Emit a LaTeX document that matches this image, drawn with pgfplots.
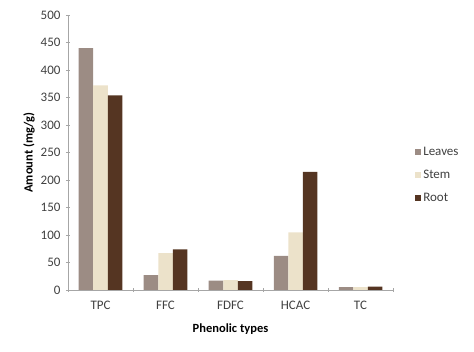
\documentclass[border=0pt]{standalone}
\usepackage{pgfplots}
\pgfplotsset{compat=1.18}
\usepackage{fontspec}
\setmainfont{Carlito}
\definecolor{leaves}{HTML}{9C8C84}
\definecolor{stem}{HTML}{ECE2CA}
\definecolor{root}{HTML}{553522}
\definecolor{txt}{HTML}{404040}
\begin{document}
\begin{tikzpicture}[x=1pt,y=1pt]
\path[use as bounding box] (0,0) rectangle (474,351);
\begin{axis}[
  at={(68pt,61pt)}, anchor=south west,
  scale only axis, width=325pt, height=275pt,
  ybar=0pt, bar width=14.5pt,
  xmin=-0.5, xmax=4.5, ymin=0, ymax=500,
  ytick={0,50,...,500},
  xtick={0,1,2,3,4},
  xticklabels={TPC,FFC,FDFC,HCAC,TC},
  minor xtick={-0.5,0.5,...,4.5},
  major x tick style={draw=none},
  minor x tick style={draw=gray!70},
  y tick style={draw=gray!70},
  tick align=outside,
  major tick length=4pt, minor tick length=4pt,
  axis x line=bottom, axis y line=left,
  axis line style={-, draw=gray!70},
  tick label style={font=\fontsize{13}{15}\selectfont, text=txt},
  /pgf/number format/assume math mode=true,
  yticklabel style={xshift=-2pt},
  xticklabel style={yshift=-6pt},
  xlabel={\textbf{Phenolic types}},
  ylabel={\textbf{Amount (mg/g)}},
  label style={font=\fontsize{12.5}{14}\selectfont, text=black},
  xlabel style={yshift=-7pt},
  ylabel style={yshift=-1pt},
  legend style={draw=none, fill=none, at={(1.068,0.418)}, anchor=west, font=\fontsize{13}{15}\selectfont, text=txt, row sep=9pt, inner sep=0pt},
  legend cell align=left,
  legend image code/.code={\draw[#1, draw=none] (0pt,-3pt) rectangle (6pt,3pt);},
]
\addplot[fill=leaves, draw=none] coordinates {(0,440) (1,27) (2,17) (3,62) (4,5)};
\addplot[fill=stem, draw=none] coordinates {(0,372) (1,67) (2,18) (3,105) (4,5)};
\addplot[fill=root, draw=none] coordinates {(0,354) (1,74) (2,16) (3,215) (4,6)};
\legend{Leaves,Stem,Root}
\end{axis}
\end{tikzpicture}
\end{document}
